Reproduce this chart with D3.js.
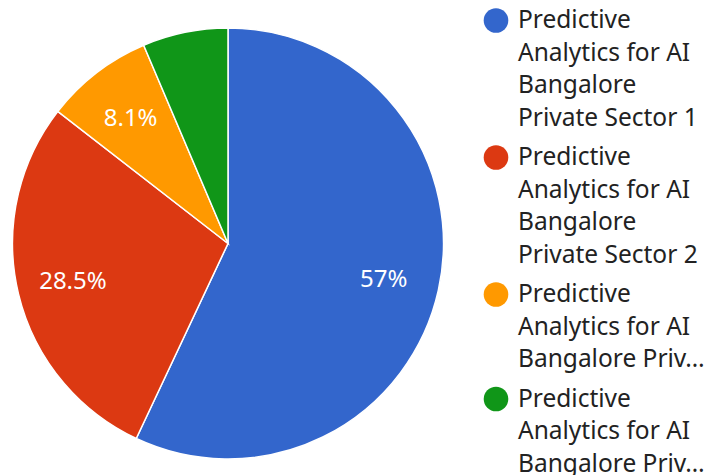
<!DOCTYPE html>
<html><head><meta charset="utf-8">
<script src="https://cdn.jsdelivr.net/npm/d3@7"></script>
<style>body{margin:0;background:#fff;font-family:"Noto Sans",sans-serif;}</style>
</head><body><svg id="c" width="707" height="475"></svg>
<script>
const categories = [
  "Predictive Analytics for AI Bangalore Private Sector 1",
  "Predictive Analytics for AI Bangalore Private Sector 2",
  "Predictive Analytics for AI Bangalore Private Sector 3",
  "Predictive Analytics for AI Bangalore Private Sector 4"
];
const values = [57, 28.5, 8.1, 6.4];
const colors = ["#3366cc", "#dc3912", "#ff9900", "#109618"];
const legendLines = [
  ["Predictive", "Analytics for AI", "Bangalore", "Private Sector 1"],
  ["Predictive", "Analytics for AI", "Bangalore", "Private Sector 2"],
  ["Predictive", "Analytics for AI", "Bangalore Priv…"],
  ["Predictive", "Analytics for AI", "Bangalore Priv…"]
];

const svg = d3.select("#c");
const cx = 228, cy = 243.5, r = 215.5;
const pie = d3.pie().sort(null).value(d => d)(values);
const arc = d3.arc().innerRadius(0).outerRadius(r);
const labelArc = d3.arc().innerRadius(r * 0.74).outerRadius(r * 0.74);
const total = d3.sum(values);
const g = svg.append("g").attr("transform", `translate(${cx},${cy})`);
g.selectAll("path").data(pie).join("path")
  .attr("d", arc).attr("fill", (d, i) => colors[i])
  .attr("stroke", "#fff").attr("stroke-width", 1.5);
g.selectAll("text").data(pie).join("text")
  .filter(d => d.data / total >= 0.07)
  .attr("transform", d => `translate(${labelArc.centroid(d)})`)
  .attr("text-anchor", "middle").attr("dy", "0.35em")
  .attr("fill", "#fff").attr("font-size", 24)
  .text(d => d3.format(".3~")(d.data / total * 100) + "%");

const lg = svg.append("g");
const lineH = 32.5, entryGap = 39.5;
let y = 28;
legendLines.forEach((lines, i) => {
  lg.append("circle").attr("cx", 496).attr("cy", y - 7.5).attr("r", 12.3).attr("fill", colors[i]);
  lines.forEach((t, j) => {
    lg.append("text").attr("x", 518).attr("y", y + j * lineH)
      .attr("font-size", 24.5).attr("fill", "#222").text(t);
  });
  y += (lines.length - 1) * lineH + entryGap;
});
</script></body></html>
